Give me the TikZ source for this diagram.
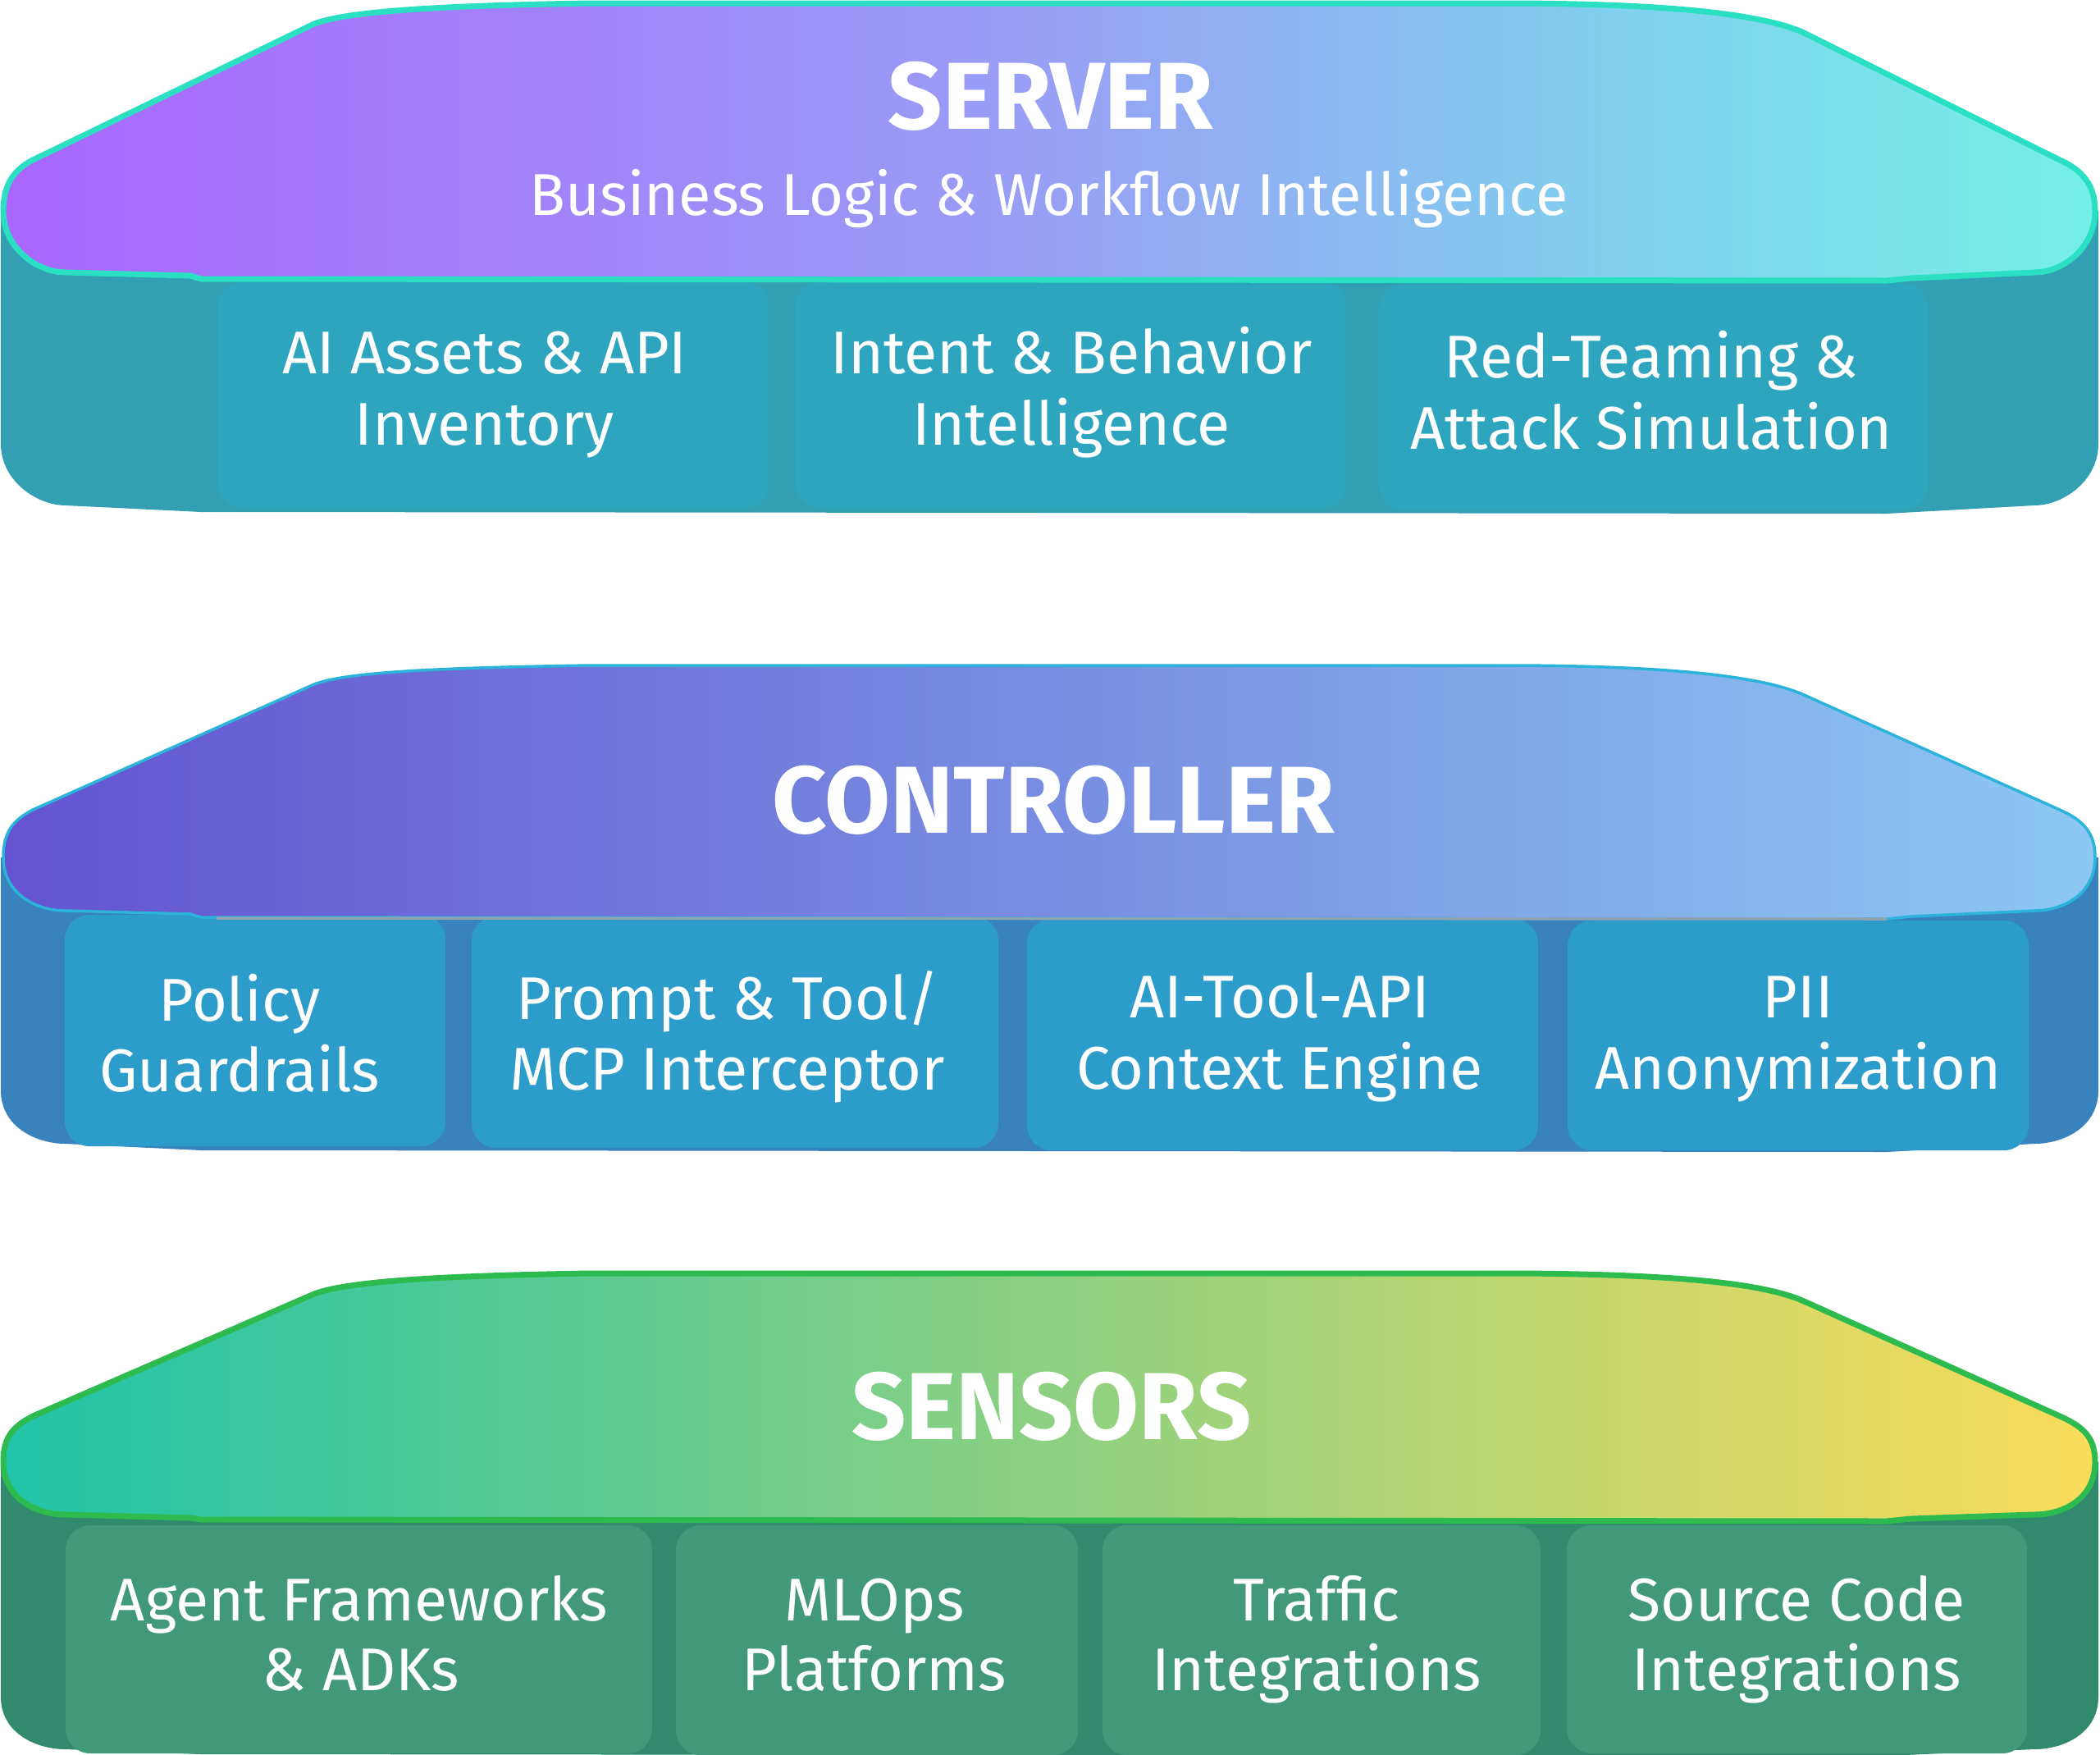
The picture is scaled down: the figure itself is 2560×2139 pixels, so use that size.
\documentclass[tikz,border=0pt]{standalone}
\usepackage{fontspec}
\setmainfont{Fira Sans}
\definecolor{srvA}{HTML}{A966FD}
\definecolor{srvB}{HTML}{A282F9}
\definecolor{srvC}{HTML}{98A0F5}
\definecolor{srvD}{HTML}{80CFEE}
\definecolor{srvE}{HTML}{75F0E6}
\definecolor{srvBorder}{HTML}{2BE0C2}
\definecolor{srvSide}{HTML}{32A0B2}
\definecolor{srvBox}{HTML}{2EA5BF}
\definecolor{ctlL}{HTML}{6453D0}
\definecolor{ctlR}{HTML}{8CC8F3}
\definecolor{ctlBorder}{HTML}{2BB3DA}
\definecolor{ctlSide}{HTML}{3882BE}
\definecolor{ctlBox}{HTML}{2C9DCB}
\definecolor{ctlGray}{HTML}{8FA3B3}
\definecolor{senL}{HTML}{20C4A8}
\definecolor{senR}{HTML}{FADC5A}
\definecolor{senBorder}{HTML}{2DBA4E}
\definecolor{senSide}{HTML}{318A6E}
\definecolor{senBox}{HTML}{41997A}
\pgfdeclarehorizontalshading{servershade}{100bp}{color(0bp)=(srvA); color(25bp)=(srvA); color(37.5bp)=(srvB); color(50bp)=(srvC); color(63.3bp)=(srvD); color(75bp)=(srvE); color(100bp)=(srvE)}
% layer outline macros (parameters set by \def before use)
\newcommand\facepath[1]{\path[#1] (383,\yaL) .. controls (420,\yaL-14) and (520,\yt+3) .. (720,\yt) -- (1850,\yt) .. controls (2050,\yt+1) and (2150,\yaR-20) .. (2197,\yaR) -- (2511,\yb) .. controls (2540,\yb+13) and (2554,\yc-30) .. (2554,\yc) .. controls (2554,\yc+45) and (2515,\yd) .. (2480,\yd) -- (2330,\ye-3) -- (2300,\ye) -- (245,\ye-2) -- (232,\yd+4) -- (80,\yd) .. controls (45,\yd) and (4,\yc+45) .. (4,\yc) .. controls (4,\yc-30) and (15,\yb+13) .. (40,\yb) -- cycle;}
\newcommand\sidepath[1]{\path[#1] (1,\yc) -- (1,\yc+\th) .. controls (1,\yc+\th+45) and (45,\yd+\th) .. (80,\yd+\th) -- (245,\ye+\th-2) -- (2300,\ye+\th) -- (2480,\yd+\th) .. controls (2515,\yd+\th) and (2558,\yc+\th+45) .. (2558,\yc+\th) -- (2558,\yc) -- cycle;}
\tikzset{
  boxbg/.style={rounded corners=30pt, draw=none},
  title/.style={text=white, inner sep=0pt, anchor=base, font=\bfseries\fontsize{116}{130}\selectfont},
  subtitle/.style={text=white, inner sep=0pt, anchor=base, font=\fontsize{72}{88}\selectfont},
  lbl/.style={text=white, inner sep=0pt, anchor=base, font=\fontsize{73.5}{90}\selectfont},
}
\begin{document}
\begin{tikzpicture}[x=1pt, y=-1pt]
\useasboundingbox (0,0) rectangle (2560,2139);
\fill[white] (0,0) rectangle (2560,2139);

%================ SERVER =================
\def\yt{4}\def\yaL{29}\def\yaR{39}\def\yb{195}\def\yc{257}\def\yd{332}\def\ye{342}\def\th{284}
\sidepath{fill=srvSide}
\fill[srvBox, boxbg] (266,343) rectangle (937,620);
\fill[srvBox, boxbg] (970,343) rectangle (1641,620);
\fill[srvBox, boxbg] (1681,345) rectangle (2350,622);
\facepath{shading=servershade, shading angle=0}
\facepath{draw=srvBorder, line width=7pt, line join=round}
\node[title] (srvT) at (1281,157) {SERVER};
\node[subtitle] (srvS) at (1279,262) {Business Logic \& Workflow Intelligence};
\node[lbl] (s1a) at (591,455) {AI Assets \& API};
\node[lbl] (s1b) at (591,542) {Inventory};
\node[lbl] (s2a) at (1306,455) {Intent \& Behavior};
\node[lbl] (s2b) at (1306,542) {Intelligence};
\node[lbl] (s3a) at (2013,460) {Red-Teaming \&};
\node[lbl] (s3b) at (2013,547) {Attack Simulation};

%================ CONTROLLER =================
\def\yt{811}\def\yaL{834}\def\yaR{846}\def\yb{987}\def\yc{1045}\def\yd{1110}\def\ye{1120}\def\th{284}
\sidepath{fill=ctlSide}
\fill[ctlBox, boxbg] (79,1115) rectangle (543,1397);
\fill[ctlBox, boxbg] (575,1117) rectangle (1217,1399);
\fill[ctlBox, boxbg] (1252,1120) rectangle (1875,1402);
\fill[ctlBox, boxbg] (1911,1122) rectangle (2473,1402);
\facepath{left color=ctlL, right color=ctlR}
\facepath{draw=ctlBorder, line width=3.5pt, line join=round}
\draw[ctlGray, line width=3.5pt] (264,\ye-1) -- (2300,\ye);
\node[title] (ctlT) at (1284,1015) {CONTROLLER};
\node[lbl] (c1a) at (292,1244) {Policy};
\node[lbl] (c1b) at (292,1330) {Guardrails};
\node[lbl] (c2a) at (887,1242) {Prompt \& Tool/};
\node[lbl] (c2b) at (887,1328) {MCP Interceptor};
\node[lbl] (c3a) at (1560,1240) {AI-Tool-API};
\node[lbl] (c3b) at (1560,1327) {Context Engine};
\node[lbl] (c4a) at (2192,1240) {PII};
\node[lbl] (c4b) at (2192,1327) {Anonymization};

%================ SENSORS =================
\def\yt{1552}\def\yaL{1577}\def\yaR{1585}\def\yb{1726}\def\yc{1782}\def\yd{1846}\def\ye{1854}\def\th{286}
\sidepath{fill=senSide}
\fill[senBox, boxbg] (80,1859) rectangle (795,2137);
\fill[senBox, boxbg] (824,1859) rectangle (1314,2139);
\fill[senBox, boxbg] (1344,1859) rectangle (1878,2139);
\fill[senBox, boxbg] (1910,1859) rectangle (2471,2137);
\facepath{left color=senL, right color=senR}
\facepath{draw=senBorder, line width=7pt, line join=round}
\node[title] (senT) at (1282,1754) {SENSORS};
\node[lbl] (n1a) at (438,1975) {Agent Frameworks};
\node[lbl] (n1b) at (440,2060) {\& ADKs};
\node[lbl] (n2a) at (1066,1975) {MLOps};
\node[lbl] (n2b) at (1066,2060) {Platforms};
\node[lbl] (n3a) at (1605,1975) {Traffic};
\node[lbl] (n3b) at (1605,2060) {Integrations};
\node[lbl] (n4a) at (2190,1975) {Source Code};
\node[lbl] (n4b) at (2190,2060) {Integrations};
\end{tikzpicture}
\end{document}
